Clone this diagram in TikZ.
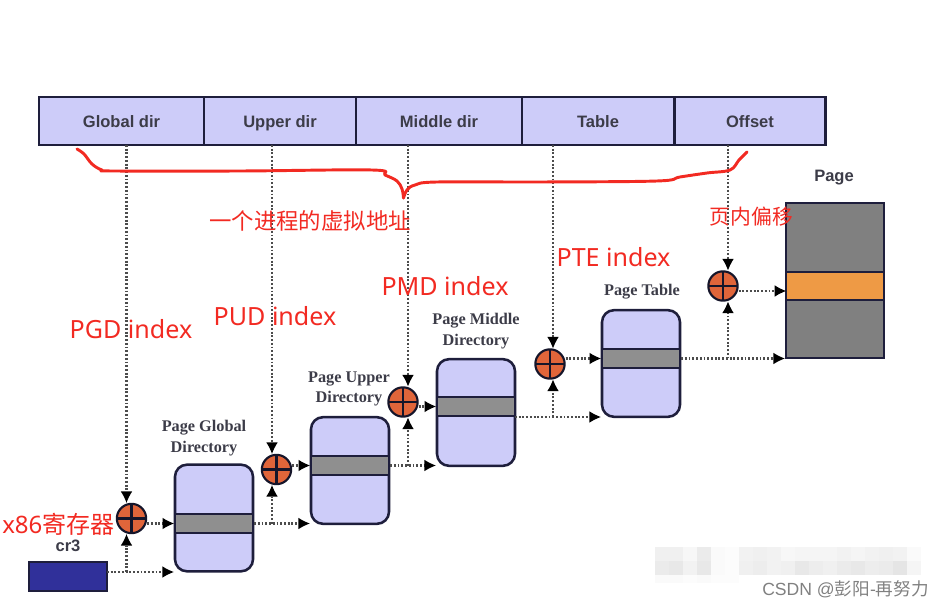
\documentclass[tikz,border=0pt]{standalone}
\usepackage{fontspec}
\setmainfont{Liberation Serif}
\setsansfont{Liberation Sans}
\newfontfamily\redlatin{Noto Sans}
\newfontfamily\cjk{Noto Sans CJK SC}
\usetikzlibrary{arrows.meta}
\definecolor{ink}{HTML}{1E1E3C}
\definecolor{lilac}{HTML}{CDCCF9}
\definecolor{band}{HTML}{8F8F8F}
\definecolor{pagegrey}{HTML}{808080}
\definecolor{orangeband}{HTML}{EE9A45}
\definecolor{addfill}{HTML}{E0653A}
\definecolor{note}{HTML}{F22A22}
\definecolor{caption}{HTML}{3C3C48}
\definecolor{crblue}{HTML}{30309A}
\begin{document}
\begin{tikzpicture}[
    x=0.75pt, y=-0.75pt,
    field/.style={rectangle, draw=ink, line width=1.9pt, fill=lilac, minimum height=36pt, inner sep=0pt, text height=11pt, text depth=1.5pt, font=\sffamily\bfseries\fontsize{12.4}{14}\selectfont, text=caption},
    table/.style={rectangle, draw=ink, line width=1.9pt, fill=lilac, rounded corners=9pt, minimum width=58.5pt, minimum height=80pt, inner sep=0pt},
    slot/.style={rectangle, draw=ink, line width=1.7pt, fill=band, minimum width=58.5pt, minimum height=14pt, inner sep=0pt},
    adder/.style={circle, draw=ink!70!black, line width=1.6pt, fill=addfill, minimum size=22pt, inner sep=0pt,
        path picture={\draw[ink!70!black, line width=1.9pt] (path picture bounding box.north) -- (path picture bounding box.south)
            (path picture bounding box.west) -- (path picture bounding box.east);}},
    link/.style={draw=black!70, line width=1.7pt, dash pattern=on 1.4pt off 1.4pt, -{Latex[length=8.5pt,width=8.5pt,color=black,line width=0pt]}},
    title/.style={align=center, font=\bfseries\fontsize{12.2}{15.5}\selectfont, text=caption, inner sep=0pt},
    sanstitle/.style={font=\sffamily\bfseries\fontsize{12.4}{14}\selectfont, text=caption, inner sep=0pt},
    redtext/.style={text=note, inner sep=0pt, font=\redlatin\fontsize{18.8}{20}\selectfont},
    redcjk/.style={text=note, inner sep=0pt, font=\cjk\fontsize{16.8}{18}\selectfont}
]
\useasboundingbox (0,0) rectangle (942,609);

% blurred patch behind the watermark
\foreach \i/\g in {0/6,1/6,2/3,3/8,4/2,5/1,6/5,7/6,8/5,9/3,10/4,11/4,12/4,13/5,14/4,15/5,16/6,17/5,18/2}
    \fill[black!\g] (655+14*\i,547) rectangle +(14,14);
\foreach \i/\g in {0/8,1/9,2/5,3/9,4/2,5/1,6/6,7/7,8/5,9/6,10/9,11/7,12/6,13/8,14/9,15/7,16/8,17/10,18/4}
    \fill[black!\g] (655+14*\i,561) rectangle +(14,14);
\foreach \i/\g in {0/2,1/2,2/1,3/2,4/1,5/1}
    \fill[black!\g] (655+14*\i,575) rectangle +(14,8);

% virtual address fields
\node[field, minimum width=123.75pt] (gdir) at (121.5,121) {Global dir};
\node[field, minimum width=114pt]    (udir) at (280,121)   {Upper dir};
\node[field, minimum width=124.5pt]  (mdir) at (439,121)   {Middle dir};
\node[field, minimum width=114pt]    (tdir) at (598,121)   {Table};
\node[field, minimum width=113.25pt] (odir) at (750,121)   {Offset};

% page tables
\node[table] (pgd) at (214,518) {};
\node[slot]  (pgdslot) at (214,523.5) {};
\node[table] (pud) at (350,470.5) {};
\node[slot]  (pudslot) at (350,465.5) {};
\node[table] (pmd) at (476,412.5) {};
\node[slot]  (pmdslot) at (476,406.5) {};
\node[table] (pt)  at (641,363.5) {};
\node[slot]  (ptslot)  at (641,358.5) {};

% page
\node[rectangle, draw=ink, line width=1.9pt, fill=pagegrey, minimum width=73.5pt, minimum height=116pt, inner sep=0pt] (page) at (835,280.5) {};
\node[rectangle, draw=ink, line width=1.6pt, fill=orangeband, minimum width=73.5pt, minimum height=21pt, inner sep=0pt] (pageslot) at (835,286) {};

% cr3
\node[rectangle, draw=ink, line width=1.4pt, fill=crblue, minimum width=58.5pt, minimum height=21.5pt, inner sep=0pt] (cr3) at (68,576.5) {};

% adders
\node[adder] (add1) at (131.5,518.5) {};
\node[adder] (add2) at (276.5,469.5) {};
\node[adder] (add3) at (403,402) {};
\node[adder] (add4) at (550,364) {};
\node[adder] (add5) at (723,286) {};

% taps under the address fields
\coordinate (tap1) at (126.5,145);
\coordinate (tap2) at (272,145);
\coordinate (tap3) at (408,145);
\coordinate (tap4) at (553,145);
\coordinate (tap5) at (728,145);
\coordinate (base) at (107,572);
\coordinate (pmdout) at (515,417);
\coordinate (pagein) at (786,291);

% index lines
\draw[link] (tap1) -- (tap1 |- add1.north);
\draw[link] (tap2) -- (tap2 |- add2.north);
\draw[link] (tap3) -- (tap3 |- add3.north);
\draw[link] (tap4) -- (tap4 |- add4.north);
\draw[link] (tap5) -- (tap5 |- add5.north);

% base lines and their branches
\draw[link] (base) -- (base -| pgd.west);
\draw[link] (tap1 |- base) -- (tap1 |- add1.south);
\draw[link] (pgdslot.east) -- (pgdslot.east -| pud.west);
\draw[link] (tap2 |- pgdslot.east) -- (tap2 |- add2.south);
\draw[link] (pudslot.east) -- (pudslot.east -| pmd.west);
\draw[link] (tap3 |- pudslot.east) -- (tap3 |- add3.south);
\draw[link] (pmdout) -- (pmdout -| pt.west);
\draw[link] (tap4 |- pmdout) -- (tap4 |- add4.south);
\draw[link] (ptslot.east) -- (ptslot.east -| page.west);
\draw[link] (tap5 |- ptslot.east) -- (tap5 |- add5.south);

% adder outputs
\draw[link] (add1.east |- pgdslot.west) -- (pgdslot.west);
\draw[link] (add2.east |- pudslot.west) -- (pudslot.west);
\draw[link] (add3.east |- pmdslot.west) -- (pmdslot.west);
\draw[link] (add4.east |- ptslot.west) -- (ptslot.west);
\draw[link] (add5.east |- pagein) -- (pagein);

% captions
\node[title] at (204,438) {Page Global\\Directory};
\node[title] at (349,389) {Page Upper\\Directory};
\node[title] at (476,331) {Page Middle\\Directory};
\node[title] at (642,292) {Page Table};
\node[sanstitle] at (834,178) {Page};
\node[sanstitle] at (68,546) {cr3};

% red handwriting
\draw[note, line width=2.2pt, line cap=round, line join=round] plot[smooth, tension=0.6] coordinates {
    (77,149) (84,154) (92,164) (102,170) (114,171) (240,171) (372,170) (385,175) (397,181) (402,189) (403.5,198)};
\draw[note, line width=2.2pt, line cap=round, line join=round] plot[smooth, tension=0.6] coordinates {
    (403.5,198) (407,190) (415,185) (437,182) (540,182) (657,181) (680,177) (707,173) (730,170) (739,160) (747,152)};
\node[redcjk] at (310,221) {一个进程的虚拟地址};
\node[redcjk, font=\cjk\fontsize{15.6}{18}\selectfont] at (751.5,217) {页内偏移};
\node[redtext] at (131,329) {PGD index};
\node[redtext] at (275,316) {PUD index};
\node[redtext] at (445,286) {PMD index};
\node[redtext] at (613.5,257) {PTE index};
\node[redtext, anchor=west, font=\redlatin\fontsize{18}{20}\selectfont] at (2,524) {x86\cjk 寄存器};

% watermark
\node[anchor=east, inner sep=0pt, text=black!50, font=\sffamily\fontsize{13.2}{15}\selectfont] at (929,589) {CSDN @{\cjk 彭阳}-{\cjk 再努力}};
\end{tikzpicture}
\end{document}
